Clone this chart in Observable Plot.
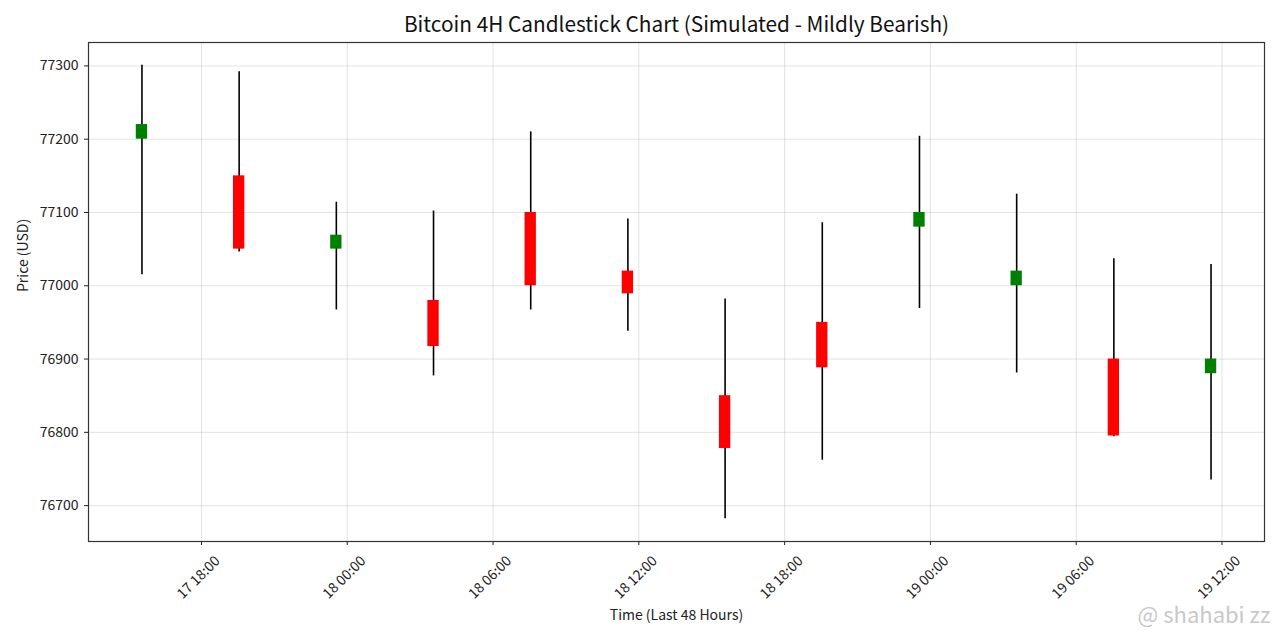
<!DOCTYPE html>
<html>
<head>
<meta charset="utf-8">
<script src="https://cdn.jsdelivr.net/npm/d3@7"></script>
<script src="https://cdn.jsdelivr.net/npm/@observablehq/plot@0.6"></script>
<style>
  html, body { margin: 0; padding: 0; background: #fff; }
  #chart svg { display: block; }
</style>
</head>
<body>
<div id="chart"></div>
<script>
const times  = ["2025-04-17T15:33", "2025-04-17T19:33", "2025-04-17T23:33", "2025-04-18T03:33",
                "2025-04-18T07:33", "2025-04-18T11:33", "2025-04-18T15:33", "2025-04-18T19:33",
                "2025-04-18T23:33", "2025-04-19T03:33", "2025-04-19T07:33", "2025-04-19T11:33"];
const opens  = [77200, 77150, 77050, 76980, 77100, 77020, 76850, 76950, 77080, 77000, 76900, 76880];
const highs  = [77301, 77292, 77114, 77102, 77210, 77091, 76982, 77086, 77204, 77125, 77037, 77029];
const lows   = [77015, 77046, 76967, 76877, 76967, 76938, 76682, 76762, 76969, 76881, 76794, 76735];
const closes = [77220, 77050, 77069, 76917, 77000, 76989, 76778, 76888, 77100, 77020, 76795, 76900];
const xTickLabels = ["2025-04-17T18:00", "2025-04-18T00:00", "2025-04-18T06:00", "2025-04-18T12:00",
                     "2025-04-18T18:00", "2025-04-19T00:00", "2025-04-19T06:00", "2025-04-19T12:00"];
const yTicks = [76700, 76800, 76900, 77000, 77100, 77200, 77300];
const title = "Bitcoin 4H Candlestick Chart (Simulated - Mildly Bearish)";
const xLabel = "Time (Last 48 Hours)";
const yLabel = "Price (USD)";
const watermark = "@ shahabi zz";

const data = times.map((t, i) => ({
  t: new Date(t), open: opens[i], high: highs[i], low: lows[i], close: closes[i],
  up: closes[i] >= opens[i]
}));
const xTicks = xTickLabels.map(s => new Date(s));

const HALF = 14 * 60 * 1000; // half body width (minutes)
const tMin = d3.min(data, d => +d.t), tMax = d3.max(data, d => +d.t);
const tPad = (tMax - tMin) * 0.05;
const pMin = d3.min(lows), pMax = d3.max(highs);
const pPad = (pMax - pMin) * 0.05;

const fmt = d3.timeFormat("%d %H:%M");
const FONT = "Noto Sans CJK SC";

const chart = Plot.plot({
  width: 1280,
  height: 640,
  marginLeft: 88,
  marginRight: 16,
  marginTop: 42,
  marginBottom: 99,
  style: { fontFamily: FONT, fontSize: "14px", color: "#222", background: "#fff" },
  x: { type: "time", domain: [new Date(tMin - tPad), new Date(tMax + tPad)] },
  y: { domain: [pMin - pPad, pMax + pPad] },
  marks: [
    Plot.gridX(xTicks, { stroke: "#b0b0b0", strokeOpacity: 0.35, strokeWidth: 1 }),
    Plot.gridY(yTicks, { stroke: "#b0b0b0", strokeOpacity: 0.35, strokeWidth: 1 }),
    Plot.axisY({ ticks: yTicks, tickSize: 4, tickPadding: 6, tickFormat: d => String(d), label: null, fontSize: 14, fill: "#222" }),
    Plot.axisX({ ticks: xTicks, tickSize: 4, tickFormat: () => "", label: null }),
    Plot.text(xTicks, { x: d => d, text: d => fmt(d), frameAnchor: "bottom", dy: 17, dx: 16,
      rotate: -45, textAnchor: "end", lineAnchor: "middle", fontSize: 14, fill: "#222" }),
    Plot.ruleX(data, { x: "t", y1: "low", y2: "high", stroke: "#000", strokeWidth: 1.6 }),
    Plot.rect(data, {
      x1: d => new Date(+d.t - HALF), x2: d => new Date(+d.t + HALF),
      y1: "open", y2: "close",
      fill: d => d.up ? "#008000" : "#ff0000", inset: 0
    }),
    Plot.frame({ stroke: "#333", strokeWidth: 1.2 }),
    Plot.text([title], { text: d => d, frameAnchor: "top", dy: -17, lineAnchor: "middle", fontSize: 20.8, fill: "#111" }),
    Plot.text([xLabel], { text: d => d, frameAnchor: "bottom", dy: 74, lineAnchor: "middle", fontSize: 14, fill: "#222" }),
    Plot.text([yLabel], { text: d => d, frameAnchor: "left", dx: -65, rotate: -90, lineAnchor: "middle", fontSize: 14, fill: "#222" }),
    Plot.text([watermark], { text: d => d, frameAnchor: "bottom-right", dx: 6, dy: 74, textAnchor: "end", lineAnchor: "middle", fontSize: 22, fill: "#c8c8c8" })
  ]
});
document.getElementById("chart").appendChild(chart);
</script>
</body>
</html>
